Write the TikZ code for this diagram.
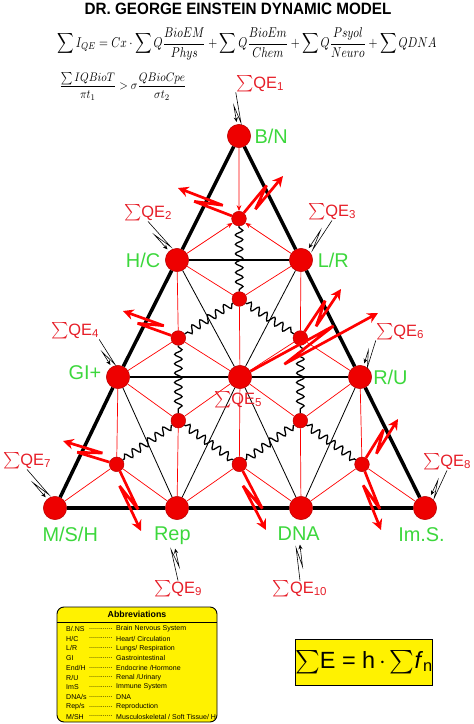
\documentclass[tikz,border=0pt]{standalone}
\usepackage{amsfonts}
\usepackage{amsmath}
\usepackage{fontspec}
\setmainfont{Liberation Sans}
\usepackage{tikz}
\usetikzlibrary{arrows.meta, calc, decorations.pathmorphing, positioning, shapes}

\definecolor{organred}{RGB}{238,0,0}
\definecolor{organgreen}{RGB}{60,215,60}
\definecolor{qered}{RGB}{230,30,40}

\tikzset{
	big/.style={circle, fill=organred, draw=organred!75!black, line width=.4pt, minimum size=.7cm, inner sep=0pt},
	small/.style={circle, fill=organred, draw=organred!75!black, line width=.4pt, minimum size=.44cm, inner sep=0pt},
	organ/.style={text=organgreen, font=\fontsize{17}{17}\selectfont, inner sep=1pt},
	qe/.style={text=qered, font=\fontsize{14}{14}\selectfont, inner sep=0pt},
	rim/.style={line width=3pt},
	bar/.style={line width=1.6pt},
	rib/.style={line width=.7pt},
	link/.style={red, line width=.6pt},
	spring/.style={decorate, decoration={snake, amplitude=3.2pt, segment length=8pt, pre length=1pt, post length=1pt}, line width=1.1pt},
	zap/.style={red, line width=2.3pt, line join=bevel, -{Stealth[length=9pt, width=9pt]}},
	minizap/.style={black, line width=.5pt, -{Stealth[length=4pt, width=3.5pt]}, shorten >=2pt},
	abtext/.style={font=\fontsize{6}{6}\selectfont, inner sep=0pt},
}

% lightning arrow: style, offset, from, to
\newcommand{\zap}[4]{%
	\draw[#1] (#3) -- ($(#3)!.7!(#4)!#2!90:(#4)$) -- ($(#3)!.3!(#4)!#2!-90:(#4)$) -- (#4);}
\newcommand{\qe}[1]{$\sum$QE\textsubscript{#1}}

\begin{document}
\begin{tikzpicture}[x=.03cm, y=-.03cm]
	\useasboundingbox (0,0) rectangle (474,724);

	% title and laws
	\node[font=\fontsize{14}{14}\selectfont\bfseries, inner sep=0pt] (title) at (238,9) {\scalebox{.93}[1]{DR. GEORGE EINSTEIN DYNAMIC MODEL}};
	\node[inner sep=0pt] (law) at (247,44) {\resizebox*{11.37cm}{.96cm}{$\displaystyle\sum I_{QE}=Cx\cdot\sum Q\frac{BioEM}{Phys}+\sum Q\frac{BioEm}{Chem}+\sum Q\frac{Psyol}{Neuro}+\sum QDNA$}};
	\node[inner sep=0pt] (ratio) at (123,86) {\resizebox*{3.81cm}{.84cm}{$\displaystyle\frac{\sum IQBioT}{\pi t_1}>\sigma\frac{QBioCpe}{\sigma t_2}$}};

	% organ systems
	\node[big] (bn) at (239,136) {};
	\node[big] (hc) at (177,260) {};
	\node[big] (lr) at (301,260) {};
	\node[big] (gi) at (118,377) {};
	\node[big] (cc) at (240,377) {};
	\node[big] (ru) at (360,377) {};
	\node[big] (msh) at (55,508) {};
	\node[big] (rep) at (177,508) {};
	\node[big] (dna) at (301,508) {};
	\node[big] (ims) at (425,508) {};

	% one small node in every cell
	\foreach \m/\a/\b/\c in {u1/bn/hc/lr, d1/hc/lr/cc, u2/hc/gi/cc, u3/lr/cc/ru, d2/gi/cc/rep, d3/cc/ru/dna, u4/gi/msh/rep, u5/cc/rep/dna, u6/ru/dna/ims}
		\node[small] (\m) at (barycentric cs:\a=1,\b=1,\c=1) {};

	\foreach \m/\a/\b/\c in {d1/hc/lr/cc, u2/hc/gi/cc, u3/lr/cc/ru, d2/gi/cc/rep, d3/cc/ru/dna, u4/gi/msh/rep, u5/cc/rep/dna, u6/ru/dna/ims}
		\draw[link] (\a) -- (\m) (\b) -- (\m) (\c) -- (\m);
	\foreach \a in {bn, hc, lr}
		\draw[link, -{Stealth[length=5pt, width=4pt]}] (\a) -- (u1);

	% grid
	\draw[rib] (hc) -- (cc) -- (lr) (gi) -- (rep) -- (cc) -- (dna) -- (ru);
	\draw[bar] (hc) -- (lr) (gi) -- (cc) -- (ru);
	\draw[rim] (bn) -- (hc) -- (gi) -- (msh) -- (rep) -- (dna) -- (ims) -- (ru) -- (lr) -- (bn);

	\foreach \p/\q in {u1/d1, d1/u2, d1/u3, u2/d2, u3/d3, d2/u4, d2/u5, d3/u5, d3/u6}
		\draw[spring] (\p) -- (\q);

	% outgoing energy
	\coordinate (z1) at (178,188);
	\coordinate (z2) at (283,176);
	\coordinate (z3) at (341,289);
	\coordinate (z4) at (378,313);
	\coordinate (z5) at (123,311);
	\coordinate (z6) at (398,419);
	\coordinate (z7) at (63,441);
	\coordinate (z8) at (141,531);
	\coordinate (z9) at (266,530);
	\coordinate (z10) at (381,530);
	\zap{zap}{4pt}{u1}{z1}
	\zap{zap}{4pt}{u1}{z2}
	\zap{zap}{4pt}{u3}{z3}
	\zap{zap}{6pt}{cc}{z4}
	\zap{zap}{4pt}{u2}{z5}
	\zap{zap}{4pt}{u6}{z6}
	\zap{zap}{4pt}{u4}{z7}
	\zap{zap}{4pt}{u4}{z8}
	\zap{zap}{4pt}{u5}{z9}
	\zap{zap}{4pt}{u6}{z10}

	% labels
	\node[organ, right=2pt of bn] (bnl) {B/N};
	\node[organ, left=3pt of hc] (hcl) {H/C};
	\node[organ, right=3pt of lr] (lrl) {L/R};
	\node[organ, left=3pt of gi, yshift=4pt] (gil) {GI+};
	\node[organ, right=0pt of ru] (rul) {R/U};
	\node[organ, below=5pt of msh, xshift=13pt] (mshl) {M/S/H};
	\node[organ, below=5pt of rep, xshift=-4pt] (repl) {Rep};
	\node[organ, below=5pt of dna, xshift=-2pt] (dnal) {DNA};
	\node[organ, below=5pt of ims, xshift=-3pt] (imsl) {Im.S.};

	% incoming energy
	\node[qe] (q1) at (260,84) {\qe{1}};
	\node[qe] (q2) at (148,213) {\qe{2}};
	\node[qe] (q3) at (332,212) {\qe{3}};
	\node[qe] (q4) at (75,331) {\qe{4}};
	\node[qe] (q5) at (238,400) {\qe{5}};
	\node[qe] (q6) at (400,332) {\qe{6}};
	\node[qe] (q7) at (27,461) {\qe{7}};
	\node[qe] (q8) at (447,462) {\qe{8}};
	\node[qe] (q9) at (178,589) {\qe{9}};
	\node[qe] (q10) at (300,589) {\qe{10}};
	\zap{minizap}{2.5pt}{q1.south west}{bn}
	\zap{minizap}{2.5pt}{q2.south}{hc}
	\zap{minizap}{2.5pt}{q3.south}{lr}
	\zap{minizap}{2.5pt}{q4.south east}{gi}
	\zap{minizap}{2.5pt}{q6.south west}{ru}
	\zap{minizap}{2.5pt}{q7.south}{msh}
	\zap{minizap}{2.5pt}{q8.south}{ims}
	\zap{minizap}{2.5pt}{q9.north}{repl}
	\zap{minizap}{2.5pt}{q10.north}{dnal}

	% abbreviations
	\draw[fill=yellow, rounded corners=6pt, line width=.8pt] (57,607) rectangle (217,722);
	\node[font=\fontsize{7.5}{8}\selectfont\bfseries] (abtitle) at (137,614) {Abbreviations};
	\draw[line width=.6pt] (57,622) -- (217,622);
	\foreach \ab/\nm [count=\i] in {{B/.NS}/{Brain Nervous System}, {H/C}/{Heart/ Circulation}, {L/R}/{Lungs/ Respiration}, GI/Gastrointestinal, {End/H}/{Endocrine /Hormone}, {R/U}/{Renal /Urinary}, ImS/{Immune System}, {DNA/s}/DNA, {Rep/s}/Reproduction, {M/SH}/{Musculoskeletal / Soft Tissue/ H}} {
		\node[abtext, anchor=west] (ab\i) at (66,{619+\i*9.75}) {\ab};
		\node[abtext, anchor=west] (dt\i) at (89,{619+\i*9.75}) {............};
		\node[abtext, anchor=west] (nm\i) at (116,{619+\i*9.75}) {\nm};
	}

	% energy quantum
	\node[draw, fill=yellow, line width=.6pt, minimum width=3.48cm, minimum height=1.38cm, inner sep=0pt] (energy) at (364,662) {\fontsize{20}{20}\selectfont $\sum$E = h\,$\cdot$\,$\sum$\textit{f}$_{\mathrm{n}}$};
\end{tikzpicture}
\end{document}
